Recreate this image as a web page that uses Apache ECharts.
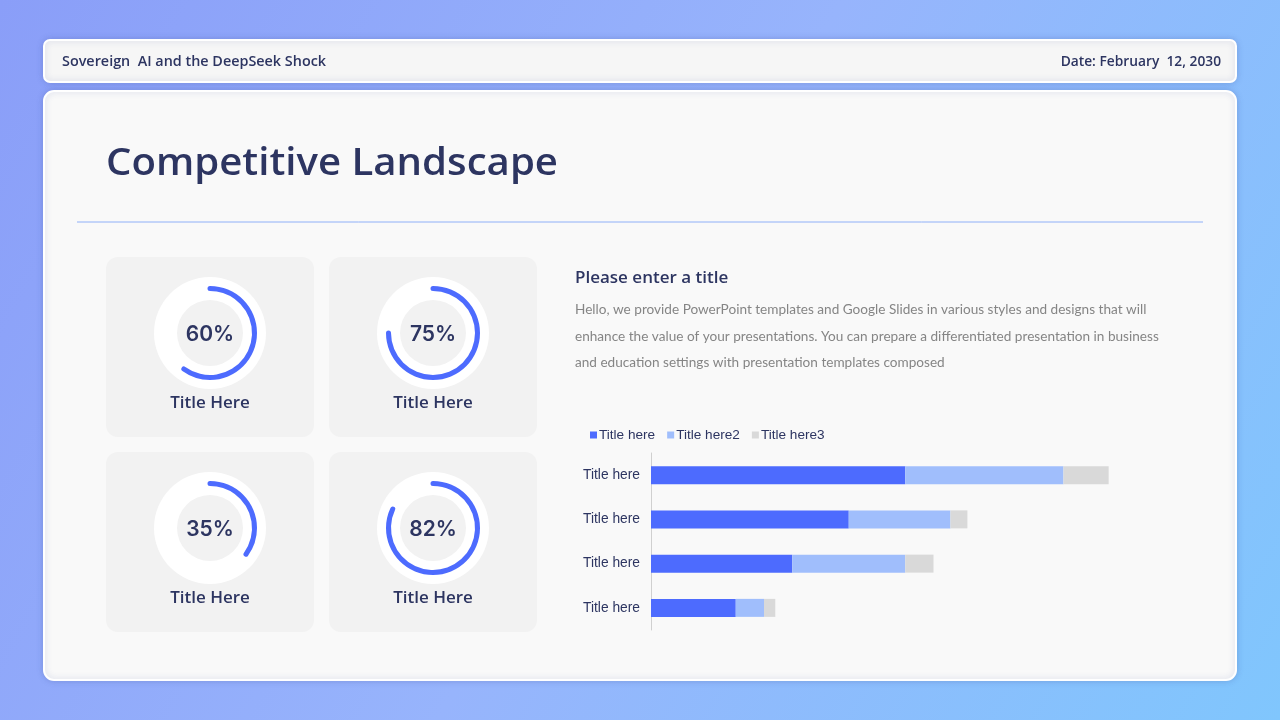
<!DOCTYPE html>
<html>
<head>
<meta charset="utf-8">
<script src="https://cdn.jsdelivr.net/npm/echarts@6/dist/echarts.min.js"></script>
<style>
  html, body { margin: 0; padding: 0; }
  #main { width: 1280px; height: 720px; }
</style>
</head>
<body>
<div id="main"></div>
<script>
// donut cards
var ringValues = [60, 75, 35, 82];
var ringTitles = ['Title Here', 'Title Here', 'Title Here', 'Title Here'];
var ringCenters = [[210, 333], [433, 333], [210, 528], [433, 528]];

// stacked bars (top to bottom)
var barCategories = ['Title here', 'Title here', 'Title here', 'Title here'];
var seriesNames = ['Title here', 'Title here2', 'Title here3'];
var values1 = [4.5, 3.5, 2.5, 1.5];
var values2 = [2.8, 1.8, 2.0, 0.5];
var values3 = [0.8, 0.3, 0.5, 0.2];

var paragraph = [
    'Hello, we provide PowerPoint templates and Google Slides in various styles and designs that will',
    'enhance the value of your presentations. You can prepare a differentiated presentation in business',
    'and education settings with presentation templates composed'
];

var navy = '#2d3561';
var barColors = ['#4d6bfe', '#a0befc', '#d9d9d9'];

var chart = echarts.init(document.getElementById('main'));

var graphics = [
    {
        type: 'rect', z: -10, silent: true,
        shape: { x: 0, y: 0, width: 1280, height: 720 },
        style: {
            fill: new echarts.graphic.LinearGradient(0, 0, 1, 1, [
                { offset: 0, color: '#8a9ef8' },
                { offset: 0.5, color: '#97b4fc' },
                { offset: 1, color: '#80c6fd' }
            ])
        }
    },
    {
        type: 'rect', z: -9, silent: true,
        shape: { x: 44, y: 40, width: 1192, height: 42, r: 6 },
        style: { fill: '#f6f6f6', stroke: '#ffffff', lineWidth: 2, shadowBlur: 6, shadowColor: 'rgba(60,80,160,0.25)' }
    },
    {
        type: 'rect', z: -9, silent: true,
        shape: { x: 44, y: 91, width: 1192, height: 589, r: 10 },
        style: { fill: '#f9f9f9', stroke: '#ffffff', lineWidth: 2, shadowBlur: 6, shadowColor: 'rgba(60,80,160,0.25)' }
    },
    {
        type: 'text', silent: true,
        x: 62, y: 62, scaleX: 1.065,
        style: { x: 0, y: 0, text: 'Sovereign  AI and the DeepSeek Shock', verticalAlign: 'middle',
            font: '600 13.5px "Open Sans"', fill: navy }
    },
    {
        type: 'text', silent: true,
        x: 1221, y: 62, scaleX: 1.02,
        style: { x: 0, y: 0, text: 'Date: February  12, 2030', align: 'right', verticalAlign: 'middle',
            font: '600 13.5px "Open Sans"', fill: navy }
    },
    {
        type: 'text', silent: true,
        x: 106, y: 164, scaleX: 1.085,
        style: { x: 0, y: 0, text: 'Competitive Landscape', verticalAlign: 'middle',
            font: '600 37px "Open Sans"', fill: navy }
    },
    {
        type: 'line', silent: true,
        shape: { x1: 77, y1: 222, x2: 1203, y2: 222 },
        style: { stroke: '#8fb0f8', lineWidth: 1 }
    },
    {
        type: 'text', silent: true,
        style: { x: 575, y: 278, text: 'Please enter a title', verticalAlign: 'middle',
            font: '600 17px "Open Sans"', fill: navy }
    }
];

paragraph.forEach(function (line, i) {
    graphics.push({
        type: 'text', silent: true,
        style: { x: 575, y: 310 + i * 26.5, text: line, verticalAlign: 'middle',
            font: '13.6px Lato', fill: '#858585' }
    });
});

ringCenters.forEach(function (c) {
    graphics.push({
        type: 'rect', z: -5, silent: true,
        shape: { x: c[0] - 104, y: c[1] - 76, width: 208, height: 180, r: 12 },
        style: { fill: '#f2f2f2' }
    });
});

var series = [];

ringCenters.forEach(function (c, i) {
    series.push({
        type: 'pie',
        silent: true,
        center: c,
        radius: [33, 56],
        label: { show: false },
        labelLine: { show: false },
        emphasis: { disabled: true },
        itemStyle: { color: '#ffffff' },
        data: [{ value: 1 }]
    });
    series.push({
        type: 'gauge',
        center: c,
        radius: 47,
        startAngle: 90,
        endAngle: -270,
        min: 0,
        max: 100,
        pointer: { show: false },
        axisLine: { lineStyle: { width: 5, color: [[1, 'rgba(0,0,0,0)']] } },
        splitLine: { show: false },
        axisTick: { show: false },
        axisLabel: { show: false },
        progress: { show: true, roundCap: true, width: 5, itemStyle: { color: barColors[0] } },
        title: { offsetCenter: [0, 70], fontSize: 17, fontWeight: 600, fontFamily: 'Open Sans', color: navy },
        detail: { offsetCenter: [0, 2], formatter: '{value}%', fontSize: 21, fontWeight: 600,
            fontFamily: 'Inter', color: navy },
        data: [{ value: ringValues[i], name: ringTitles[i] }]
    });
});

[values1, values2, values3].forEach(function (vals, i) {
    series.push({
        type: 'bar',
        name: seriesNames[i],
        stack: 'total',
        barWidth: 18,
        itemStyle: { color: barColors[i] },
        emphasis: { disabled: true },
        data: vals
    });
});

var option = {
    animation: false,
    textStyle: { fontFamily: 'Inter' },
    graphic: graphics,
    legend: {
        left: 585,
        top: 423,
        itemWidth: 7,
        itemHeight: 7,
        itemGap: 12,
        icon: 'rect',
        data: seriesNames,
        textStyle: { fontSize: 13.6, color: navy, fontFamily: 'Liberation Sans', padding: [0, 0, 0, -3] }
    },
    grid: { left: 651, top: 453, width: 508.5, height: 177 },
    xAxis: {
        type: 'value',
        min: 0,
        max: 9,
        show: false
    },
    yAxis: {
        type: 'category',
        inverse: true,
        data: barCategories,
        axisLine: { lineStyle: { color: '#d0d0d0' } },
        axisTick: { show: false },
        axisLabel: { fontSize: 13.8, color: navy, margin: 11, fontFamily: 'Liberation Sans' }
    },
    series: series
};

chart.setOption(option);
</script>
</body>
</html>
